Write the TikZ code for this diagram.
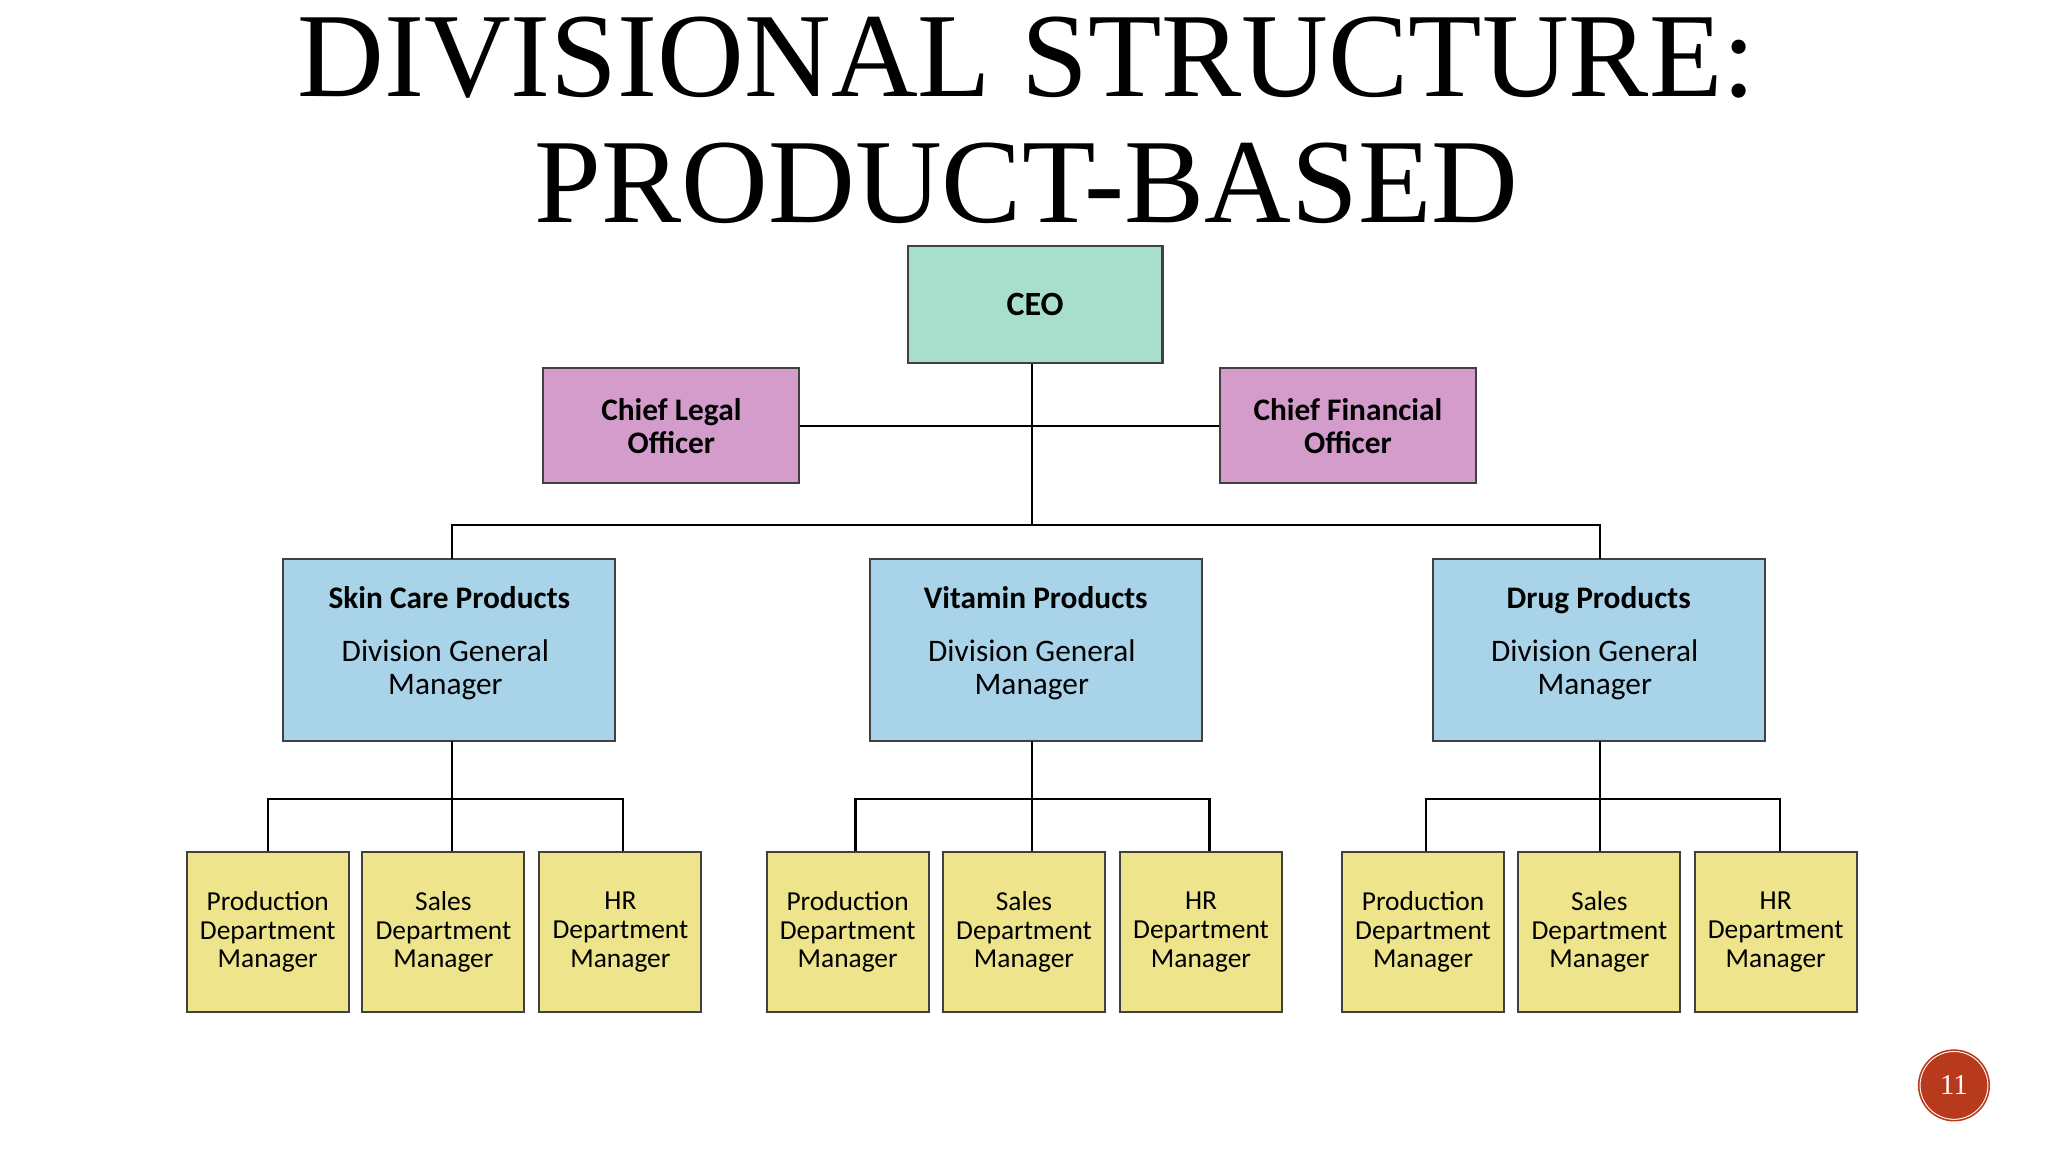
\documentclass[tikz,border=0pt]{standalone}
\usepackage{fontspec}
\setmainfont{Liberation Serif}
\newfontfamily\boxfont{Carlito}
\begin{document}
\begin{tikzpicture}[x=0.5pt,y=-0.5pt,
 bx/.style={draw=black!75,line width=0.8pt,inner sep=0pt,align=center,font=\boxfont},
 ceo/.style={bx,fill={rgb,255:red,168;green,223;blue,204}},
 chief/.style={bx,fill={rgb,255:red,212;green,156;blue,203},font=\boxfont\fontsize{12}{12.5}\selectfont\bfseries},
 div/.style={bx,fill={rgb,255:red,168;green,211;blue,232},font=\boxfont\fontsize{12}{12.5}\selectfont},
 dep/.style={bx,fill={rgb,255:red,237;green,228;blue,140},font=\boxfont\fontsize{10.5}{11}\selectfont},
 ln/.style={line width=0.8pt}]
\useasboundingbox (0,0) rectangle (1568,882);
\node[font=\fontsize{46}{48}\selectfont,align=center] (title) at (786,92) {DIVISIONAL STRUCTURE:\\PRODUCT-BASED};
\node[ceo,minimum width=97.5pt,minimum height=45pt,font=\boxfont\fontsize{13}{14}\selectfont\bfseries] (ceo) at (792.5,233) {CEO};
\node[chief,minimum width=98pt,minimum height=44pt] (cl) at (514,326) {Chief Legal\\Officer};
\node[chief,minimum width=98pt,minimum height=44pt] (cf) at (1032,326) {Chief Financial\\Officer};
\foreach \n/\x/\t in {d1/344/Skin Care Products,d2/793/Vitamin Products,d3/1224/Drug Products}{
 \node[div,minimum width=127pt,minimum height=69.5pt] (\n) at (\x,497.5) {};
 \node[font=\boxfont\fontsize{12}{12.5}\selectfont\bfseries,anchor=base] at (\x,466) {\t};
 \node[font=\boxfont\fontsize{12}{12.5}\selectfont,align=center] at (\x-3,513) {Division General\\Manager};
}
\coordinate (j0) at (790,326);
\coordinate (j1) at (790,402);
\draw[ln] (ceo.south -| j0) -- (j1);
\draw[ln] (cl.east) -- (cf.west);
\draw[ln] (346,428) -- (346,402) -- (1225,402) -- (1225,428);
\foreach \c/\a/\b in {346/205/477,790/655/926,1225/1092/1363}{
 \draw[ln] (\c,567) -- (\c,612);
 \draw[ln] (\a,652) -- (\a,612) -- (\b,612) -- (\b,652);
 \draw[ln] (\c,612) -- (\c,652);
}
\foreach \i/\x/\t in {1/205/Production,2/339.5/Sales,3/475/HR,4/649/Production,5/784/Sales,6/919.5/HR,7/1089.5/Production,8/1224.5/Sales,9/1359.5/HR}{
 \node[dep,minimum width=62pt,minimum height=61.5pt] (p\i) at (\x,713.5) {\t\\Department\\Manager};
}
\node[circle,draw=white,double={rgb,255:red,184;green,58;blue,29},fill={rgb,255:red,184;green,58;blue,29},minimum size=27pt,text=white,font=\fontsize{11}{12}\selectfont] (pg) at (1496,831) {11};
\end{tikzpicture}
\end{document}
